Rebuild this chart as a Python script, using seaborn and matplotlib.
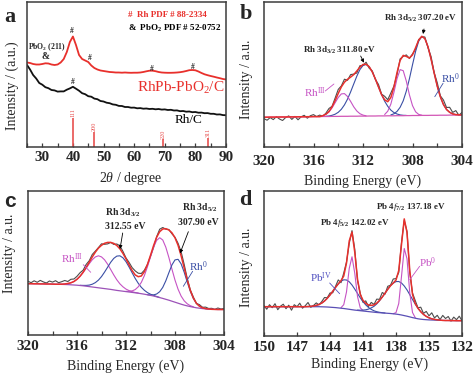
import numpy as np
import pandas as pd
import matplotlib
matplotlib.use("Agg")
import matplotlib.pyplot as plt
from matplotlib.ticker import MultipleLocator
import seaborn as sns

sns.set_theme(style="ticks")
plt.rcParams['font.family'] = ['Liberation Serif', 'DejaVu Serif']
plt.rcParams['mathtext.fontset'] = 'custom'
plt.rcParams['mathtext.rm'] = 'Liberation Serif'
plt.rcParams['mathtext.it'] = 'Liberation Serif:italic'
plt.rcParams['mathtext.bf'] = 'Liberation Serif:bold'

# ---------------- Panel a : XRD ----------------
xrd_2theta = list(range(25, 91))
xrd_rhpb = [80.5, 80, 79, 78.5, 78.5, 79, 79.7, 79.5, 78.5, 78,
            78.5, 80.5, 84, 91, 101, 106.5, 98, 88, 84, 82.5,
            81, 77.5, 75, 73.5, 72.5, 72, 71.5, 71, 70.8, 70.5,
            70.5, 70.3, 70.5, 70.3, 70.2, 70.3, 70.3, 70.5, 71, 71.7,
            72.3, 72.3, 71.8, 71, 70.5, 70.3, 70.2, 70.2, 70.3, 70.5,
            70.8, 71.3, 72, 72.8, 73, 72.7, 71.5, 70, 68.7, 67.8,
            67, 66.3, 65.5, 64.8, 64, 63.5]
xrd_rh = [78, 73.5, 68, 64.5, 60, 58.3, 55.8, 54.8, 53, 52.6,
          51.4, 51.6, 51.6, 53.3, 54.6, 56.2, 54.3, 52.3, 49.8, 48.8,
          46.8, 46.3, 44.4, 43.8, 42, 41.5, 40.3, 39.8, 38.6, 38.2,
          37.1, 37, 36, 36, 35.3, 35.4, 34.7, 34.9, 34.3, 34.5,
          34, 34.2, 33.7, 34, 33.4, 33.6, 33, 33.2, 32.5, 32.6,
          31.8, 32, 31.3, 31.5, 30.8, 31, 30.3, 30.4, 29.8, 29.9,
          29.2, 29.2, 28.5, 28.6, 27.9, 27.8]
ref_2theta = [40.1, 46.9, 69.4, 84.2]
ref_height = [28.2, 14.8, 7.2, 8.2]
ref_hkl = ['111', '200', '220', '311']

# ---------------- Panel b : Rh 3d (RhPb-PbO2/C) ----------------
b_base = [29.8, 29.8, 29.9, 29.9, 29.9, 30.0, 30.0, 30.0, 30.1, 30.1,
          30.1, 30.2, 30.2, 30.2, 30.3, 30.3, 30.4, 30.4, 30.4, 30.5,
          30.5, 30.5, 30.6, 30.6, 30.6, 30.7, 30.7, 30.7, 30.8, 30.8,
          30.8, 30.9, 30.9, 30.9, 31.0, 31.0, 31.0, 31.1, 31.1, 31.1,
          31.2, 31.2, 31.2, 31.3, 31.3, 31.3, 31.4, 31.4, 31.5, 31.5,
          31.5, 31.6, 31.6, 31.6, 31.7, 31.7, 31.7, 31.8, 31.8, 31.8,
          31.9, 31.9, 31.9, 32.0, 32.0]
b_resid = [-1.5, -3.0, -0.5, -2.5, 0.5, -2.0, -3.5, -0.5, 1.0, -2.5,
           0.5, -3.0, 0.0, 1.5, -1.5, 1.0, 2.0, 0.0, 1.5, -0.5,
           1.0, 3.0, 0.5, 2.5, 4.0, 1.0, 3.0, -1.0, 2.5, 0.5,
           -2.0, 1.5, -1.0, 2.0, -1.5, 1.0, -0.5, 2.5, 0.5, 3.5,
           2.0, 4.5, 1.0, -2.0, 1.5, -1.0, 1.5, -0.5, 1.0, -1.5,
           0.5, -0.5, 1.5, -1.0, 2.5, 0.5, 3.5, 1.0, 4.5, 2.0,
           5.0, 1.5, 4.0, -0.5, 2.5]
b_rh0_a = [0.2, 0.5, 1.1, 2.2, 4.1, 7.0, 11.4, 17.2, 24.3, 32.2, 40.0, 46.5, 50.6, 51.6,
           49.3, 44.1, 37.0, 29.0, 21.3, 14.7, 9.5, 5.7, 3.2, 1.7, 0.8, 0.4, 0.2]
b_rh0_b = [0.9, 2.0, 4.3, 8.4, 14.9, 24.5, 36.8, 50.7, 64.1, 74.3, 78.9, 76.9, 68.7, 56.3,
           42.3, 29.1, 18.4, 10.7, 5.7, 2.8, 1.2, 0.5, 0.2, 0.1]
b_rh3_a = [0.8, 2.1, 4.5, 8.5, 13.7, 18.9, 22.4, 22.7, 19.8, 14.8, 9.4, 5.2, 2.4, 1.0, 0.3]
b_rh3_b = [1.4, 4.6, 11.7, 23.5, 37.1, 46.1, 45.0, 34.5, 20.8, 9.9, 3.7, 1.1, 0.2]
b_starts = [315.0, 309.75, 315.25, 310.25]

# ---------------- Panel c : Rh 3d (Rh/C) ----------------
c_base = [48.3, 48.3, 48.2, 48.2, 48.1, 48.1, 48.0, 48.0, 47.9, 47.8,
          47.7, 47.6, 47.5, 47.4, 47.2, 47.0, 46.8, 46.5, 46.2, 45.8,
          45.4, 45.0, 44.6, 44.2, 43.8, 43.4, 43.0, 42.6, 42.1, 41.6,
          41.2, 40.8, 40.4, 40.0, 39.6, 39.2, 38.8, 38.3, 37.8, 37.2,
          36.6, 36.0, 35.2, 34.4, 33.6, 32.7, 31.8, 30.8, 29.8, 28.8,
          27.8, 26.9, 26.1, 25.4, 24.8, 24.2, 23.8, 23.4, 23.1, 22.9,
          22.7, 22.6, 22.5, 22.5, 22.5]
c_resid = [2.5, 1.0, 3.0, 1.5, 3.5, 2.0, 1.0, 3.0, 2.0, 3.5,
           1.5, 2.5, 3.5, 2.0, 3.5, 2.5, 3.0, 3.5, 2.0, 3.0,
           1.5, 2.5, 1.0, 0.5, 1.5, -1.0, -1.5, 0.0, -1.0, 1.5,
           3.0, 2.0, 1.0, 2.5, 3.0, 4.0, 3.5, 2.5, 1.5, 0.0,
           -1.0, -2.0, 0.5, 2.5, 1.5, -0.5, 0.5, -1.0, 0.5, 2.0,
           4.0, 3.5, 1.5, 0.5, 1.0, 0.0, 1.5, 0.5, 1.5, 0.5,
           1.0, 0.0, 1.5, 0.5, 1.0]
c_rh3_a = [0.1, 0.2, 0.5, 1.1, 2.0, 3.5, 5.9, 9.1, 13.2, 18.0, 22.9, 27.3, 30.5, 32.0,
           31.3, 28.8, 24.8, 19.9, 15.0, 10.6, 7.0, 4.4, 2.5, 1.4, 0.7, 0.3, 0.2]
c_rh0_a = [0.2, 0.4, 0.8, 1.5, 2.8, 4.8, 7.7, 11.6, 16.5, 21.8, 27.1, 31.5, 34.3, 35.0,
           33.4, 29.9, 25.0, 19.6, 14.4, 9.9, 6.4, 3.9, 2.2, 1.2, 0.6, 0.3, 0.1]
c_rh3_b = [0.3, 0.7, 1.5, 3.2, 6.4, 11.3, 18.6, 28.0, 38.5, 48.7, 56.4, 59.9, 58.4, 52.1,
           42.7, 32.1, 22.1, 14.0, 8.1, 4.3, 2.1, 0.9, 0.4]
c_rh0_b = [0.1, 0.4, 1.1, 2.8, 5.9, 11.0, 18.5, 27.5, 36.3, 42.3, 43.9, 40.3, 32.9, 23.8,
           15.3, 8.7, 4.4, 2.0, 0.8, 0.3, 0.1]
c_starts = [317.5, 315.75, 312.0, 310.25]

# ---------------- Panel d : Pb 4f ----------------
d_base = [21.3, 21.3, 21.3, 21.3, 21.3, 21.3, 21.3, 21.3, 21.3, 21.3,
          21.3, 21.3, 21.3, 21.3, 21.3, 21.3, 21.3, 21.3, 21.3, 21.3,
          21.3, 21.2, 21.1, 21.0, 20.8, 20.6, 20.4, 20.1, 19.8, 19.5,
          19.1, 18.7, 18.3, 17.9, 17.6, 17.3, 17.0, 16.7, 16.4, 16.1,
          15.8, 15.5, 15.3, 15.1, 14.9, 14.7, 14.5, 14.2, 13.9, 13.5,
          13.0, 12.4, 11.8, 11.1, 10.4, 9.8, 9.2, 8.8, 8.5, 8.3,
          8.1, 8.0, 7.9, 7.8, 7.7, 7.6, 7.5, 7.5, 7.4, 7.4,
          7.3, 7.3, 7.3]
d_resid = [1.0, -2.5, 2.0, -1.0, 3.0, -3.0, 0.5, 2.5, -2.0, 1.5,
           -3.5, 2.0, 0.0, 3.5, -1.5, 1.0, 4.0, -1.0, 0.5, 2.5,
           -0.5, 1.5, 3.5, 0.5, 2.0, -1.5, 1.0, 4.0, -2.0, 3.0,
           1.0, -2.5, 1.5, 3.0, -1.5, 1.0, -2.0, 2.5, -1.5, 3.0,
           0.5, 4.0, 1.0, 4.5, -1.0, 3.0, 0.5, 4.0, 1.5, -2.0,
           2.0, -1.5, 1.0, -2.0, 1.5, 3.0, 0.5, 4.5, 1.0, 5.0,
           2.0, 6.0, 1.5, 4.5, 0.5, 5.0, 2.0, 4.0, -0.5, 3.5,
           1.0, 4.5, 0.0]
d_pb4_a = [0.2, 0.4, 0.7, 1.3, 2.3, 3.7, 5.9, 8.7, 12.2, 16.1, 20.2, 24.0, 27.0, 28.7,
           28.9, 27.5, 24.7, 21.0, 17.0, 12.9, 9.3, 6.4, 4.1, 2.5, 1.4, 0.8, 0.4, 0.2, 0.1]
d_pb0_a = [0.5, 3.8, 17.0, 40.9, 52.9, 37.0, 14.0, 2.9, 0.5]
d_pb4_b = [0.3, 0.5, 0.9, 1.5, 2.5, 4.0, 5.9, 8.6, 11.9, 15.7, 19.8, 24.0, 27.8, 30.7,
           32.5, 33.0, 32.0, 29.6, 26.3, 22.3, 18.1, 14.1, 10.5, 7.5, 5.1, 3.3, 2.1, 1.2,
           0.7, 0.4, 0.2]
d_pb0_b = [0.1, 1.5, 11.0, 38.6, 67.1, 57.5, 24.2, 5.1, 0.5]
d_starts = [146.0, 143.0, 141.5, 138.25]

STEP = 0.25
assert len(xrd_rhpb) == 66 and len(xrd_rh) == 66
assert len(b_base) == 65 and len(b_resid) == 65
assert len(c_base) == 65 and len(c_resid) == 65
assert len(d_base) == 73 and len(d_resid) == 73

# ---------------- style ----------------
RED = '#E8302C'
DATA = '#4d4d4d'
BLUE = '#3A4FA5'
PINK = '#C653C4'
SPINE = '#3c3c3c'
W, H = 474, 375

fig = plt.figure(figsize=(W / 100, H / 100), dpi=100)


def add_ax(left, right, top, bottom):
    return fig.add_axes([left / W, 1 - bottom / H, (right - left) / W, (bottom - top) / H])


def style_ax(ax, pad, lsize=11):
    for s in ax.spines.values():
        s.set_color(SPINE)
        s.set_linewidth(1.1)
    ax.set_yticks([])
    ax.tick_params(axis='x', which='both', direction='in', bottom=True, top=False,
                   length=3, width=0.9, color=SPINE, pad=pad)
    ax.tick_params(axis='x', which='major', labelsize=lsize)
    for t in ax.get_xticklabels():
        t.set_fontweight('bold')
    ax.set_facecolor('white')


def labels(ax, xl, yl, xc, yc):
    ax.set_xlabel(xl, fontsize=10)
    ax.set_ylabel(yl, fontsize=10)
    ax.xaxis.set_label_coords(*xc)
    ax.yaxis.set_label_coords(*yc)
    ax.xaxis.label.set_va('center')
    ax.yaxis.label.set_va('center')


def line(ax, x, y, color, lw):
    sns.lineplot(x=np.asarray(x), y=np.asarray(y), ax=ax, color=color, linewidth=lw,
                 estimator=None, sort=False, legend=False)


def xps(ax, grid_top, base, resid, comps, starts, comp_colors, base_color):
    base = np.asarray(base, dtype=float)
    n = len(base)
    grid = grid_top - STEP * np.arange(n)
    fit = base.copy()
    segs = []
    for vals, st in zip(comps, starts):
        i0 = int(round((grid_top - st) / STEP))
        v = np.asarray(vals, dtype=float)
        fit[i0:i0 + len(v)] += v
        segs.append((grid[i0:i0 + len(v)], base[i0:i0 + len(v)] + v))
    data = fit + np.asarray(resid, dtype=float)
    line(ax, grid, data, DATA, 0.8)
    for (gx, gy), col in zip(segs, comp_colors):
        line(ax, gx, gy, col, 0.8)
    line(ax, grid, base, base_color, 0.9)
    line(ax, grid, fit, RED, 1.1)


def note(ax, xy, xytext, color='black', style='-|>'):
    ax.annotate('', xy=xy, xytext=xytext,
                arrowprops=dict(arrowstyle=style, color=color, lw=0.6, mutation_scale=5,
                                shrinkA=0, shrinkB=0))


# ---------------- Panel a ----------------
axa = add_ax(27, 226, 2, 146.5)
line(axa, xrd_2theta, xrd_rhpb, RED, 1.3)
line(axa, xrd_2theta, xrd_rh, '#111111', 1.3)
axa.vlines(ref_2theta, -3.5, np.array(ref_height) - 3.5, color='#E8504F', lw=1.2)
axa.set_xlim(25, 90)
axa.set_ylim(-3.5, 141)
axa.set_xticks([30, 40, 50, 60, 70, 80, 90])
axa.xaxis.set_minor_locator(MultipleLocator(5))
style_ax(axa, 3.5, 11)
labels(axa, r'$\mathit{2\theta}$ / degree', 'Intensity / (a.u.)', (0.518, -0.218), (-0.075, 0.419))
for xv, lab, yv in zip(ref_2theta, ref_hkl, [30.5, 17, 9, 11]):
    axa.text(xv, yv, lab, rotation=90, color='#E8504F', fontsize=4.5, ha='center', va='center')
axa.text(58.0, 128, '#  Rh PDF # 88-2334', color=RED, fontsize=6.5, fontweight='bold', va='center')
axa.text(58.0, 115, r'&  PbO$_{\mathbf{2}}$ PDF # 52-0752', color='black', fontsize=6.5,
         fontweight='bold', va='center')
axa.text(31.4, 96.3, r'PbO$_{\mathbf{2}}$ (211)', fontsize=5.5, fontweight='bold', ha='center', va='center')
axa.text(30.9, 86.3, '&', fontsize=7, fontweight='bold', ha='center', va='center')
for xv, yv in [(39.6, 112.3), (45.6, 84.7), (65.7, 74), (79.3, 76.3), (40.1, 61.3)]:
    axa.text(xv, yv, '#', fontsize=5.5, fontweight='bold', ha='center', va='center')
axa.text(75.2, 54.7, r'RhPb-PbO$_2$/C', color=RED, fontsize=11, ha='center', va='center')
axa.text(77.7, 23, 'Rh/C', color='black', fontsize=9.5, ha='center', va='center')

# ---------------- Panel b ----------------
axb = add_ax(264, 462, 2, 147)
xps(axb, 320.0, b_base, b_resid, [b_rh0_a, b_rh0_b, b_rh3_a, b_rh3_b], b_starts,
    [BLUE, BLUE, PINK, PINK], '#D255B5')
axb.set_xlim(320, 304)
axb.set_ylim(0, 145)
axb.set_xticks([320, 316, 312, 308, 304])
axb.xaxis.set_minor_locator(MultipleLocator(2))
style_ax(axb, 5.5)
labels(axb, 'Binding Energy (eV)', 'Intensity / a.u.', (0.5, -0.234), (-0.086, 0.469))
axb.text(307.35, 128.7, r'Rh 3d$_{\mathbf{5/2}}$ 307.20 eV', fontsize=6.5, fontweight='bold', ha='center', va='center')
axb.text(313.88, 97, r'Rh 3d$_{\mathbf{3/2}}$ 311.80 eV', fontsize=6.5, fontweight='bold', ha='center', va='center')
note(axb, (307.15, 113), (307.07, 118))
note(axb, (311.92, 84.3), (312.19, 91))
axb.text(315.9, 54.3, r'Rh$^{\mathrm{III}}$', color=PINK, fontsize=8, ha='center', va='center')
note(axb, (314.35, 63), (315.05, 56), PINK, '-')
axb.text(304.93, 68.7, r'Rh$^{0}$', color=BLUE, fontsize=8, ha='center', va='center')
note(axb, (306.2, 50.3), (305.53, 63.7), BLUE, '-')

# ---------------- Panel c ----------------
axc = add_ax(28, 224, 191, 335)
xps(axc, 320.0, c_base, c_resid, [c_rh3_a, c_rh0_a, c_rh3_b, c_rh0_b], c_starts,
    [PINK, BLUE, PINK, BLUE], '#9C52B8')
axc.set_xlim(320, 304)
axc.set_ylim(-3, 141)
axc.set_xticks([320, 316, 312, 308, 304])
axc.xaxis.set_minor_locator(MultipleLocator(2))
style_ax(axc, 3.5)
labels(axc, 'Binding Energy (eV)', 'Intensity / a.u.', (0.5, -0.215), (-0.092, 0.569))
axc.text(312.29, 119, r'Rh 3d$_{\mathbf{3/2}}$', fontsize=7, fontweight='bold', ha='center', va='center')
axc.text(312.08, 105.7, '312.55 eV', fontsize=7, fontweight='bold', ha='center', va='center')
axc.text(305.96, 124, r'Rh 3d$_{\mathbf{5/2}}$', fontsize=7, fontweight='bold', ha='center', va='center')
axc.text(306.1, 109.7, '307.90 eV', fontsize=7, fontweight='bold', ha='center', va='center')
note(axc, (312.49, 83), (312.27, 99))
note(axc, (307.59, 78.7), (306.91, 100.3))
axc.text(316.43, 73, r'Rh$^{\mathrm{III}}$', color=PINK, fontsize=8, ha='center', va='center')
note(axc, (314.88, 59.7), (315.49, 67.3), PINK, '-')
axc.text(306.1, 65.7, r'Rh$^{0}$', color=BLUE, fontsize=8, ha='center', va='center')
note(axc, (307.32, 45.7), (306.56, 60.7), BLUE, '-')

# ---------------- Panel d ----------------
axd = add_ax(264, 462, 191, 336)
xps(axd, 150.0, d_base, d_resid, [d_pb4_a, d_pb0_a, d_pb4_b, d_pb0_b], d_starts,
    [BLUE, PINK, BLUE, PINK], '#5A4FB5')
axd.set_xlim(150, 132)
axd.set_ylim(-8, 137)
axd.set_xticks([150, 147, 144, 141, 138, 135, 132])
style_ax(axd, 3.5)
labels(axd, 'Binding Energy (eV)', 'Intensity / a.u.', (0.535, -0.193), (-0.086, 0.472))
axd.text(141.76, 105, r'Pb 4$f_{\mathbf{5/2}}$ 142.02 eV', fontsize=6.5, fontweight='bold', ha='center', va='center')
axd.text(136.68, 121, r'Pb 4$f_{\mathbf{7/2}}$ 137.18 eV', fontsize=6.5, fontweight='bold', ha='center', va='center')
axd.text(144.79, 50, r'Pb$^{\mathrm{IV}}$', color='#5050C0', fontsize=8, ha='center', va='center')
note(axd, (143.12, 34.3), (144.03, 45), '#5050C0', '-')
axd.text(135.09, 65.7, r'Pb$^{0}$', color=PINK, fontsize=8, ha='center', va='center')
note(axd, (136.75, 48.3), (135.85, 61.7), PINK, '-')

# ---------------- panel letters ----------------
fig.text(10 / W, 1 - 17.5 / H, 'a', fontsize=16, fontweight='bold', ha='center', va='center')
fig.text(246 / W, 1 - 14 / H, 'b', fontsize=16, fontweight='bold', ha='center', va='center')
fig.text(10 / W, 1 - 202 / H, 'c', fontsize=15, fontweight='bold', ha='center', va='center',
         family=['Liberation Sans', 'DejaVu Sans'])
fig.text(245 / W, 1 - 200 / H, 'd', fontsize=16, fontweight='bold', ha='center', va='center')

fig.savefig('out.png', dpi=100)
